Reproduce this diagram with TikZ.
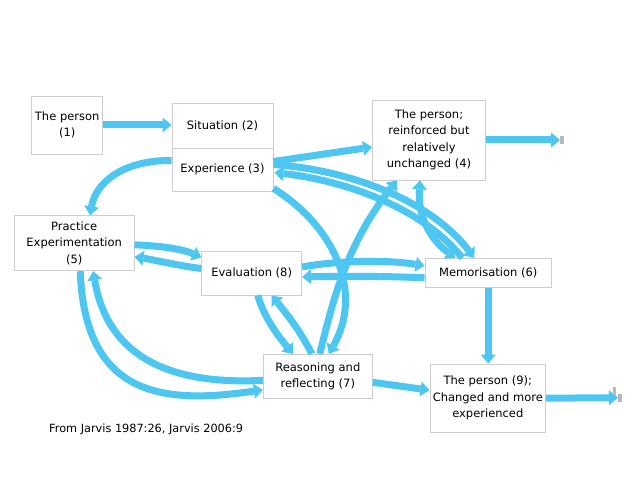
\documentclass[tikz,border=0pt]{standalone}
\usepackage{fontspec}
\setmainfont{DejaVu Sans}
\usetikzlibrary{arrows.meta,calc}
\definecolor{arrowblue}{RGB}{77,199,242}
\definecolor{boxline}{RGB}{205,205,205}
\definecolor{capgray}{RGB}{185,185,185}
\tikzset{
  box/.style={draw=boxline, line width=0.8pt, fill=white, inner sep=0pt, align=center,
    font=\fontsize{11.5}{16.5}\selectfont},
  flow/.style={draw=arrowblue, line width=7pt,
    -{Triangle[width=15pt,length=9pt,line width=0pt]}},
  flowboth/.style={draw=arrowblue, line width=7pt,
    {Triangle[width=15pt,length=9pt,line width=0pt]}-{Triangle[width=15pt,length=9pt,line width=0pt]}},
  capbar/.style={fill=capgray, draw=none}
}
\begin{document}
\begin{tikzpicture}[x=1pt,y=-1pt]
\useasboundingbox[fill=white] (0,0) rectangle (638,478);

% nodes
\node[box, minimum width=71pt, minimum height=58pt] (p1) at (67.2,125) {The person\\(1)};
\node[box, minimum width=101pt, minimum height=45pt] (sit) at (222.5,125.5) {Situation (2)};
\node[box, minimum width=101pt, minimum height=43pt] (exp) at (222.5,169.5) {Experience (3)};
\node[box, minimum width=113pt, minimum height=80pt] (p4) at (429,140) {The person;\\reinforced but\\relatively\\unchanged (4)};
\node[box, minimum width=120pt, minimum height=55pt] (prac) at (74.2,243.3) {Practice\\Experimentation\\(5)};
\node[box, minimum width=100pt, minimum height=44pt] (eval) at (251.7,273) {Evaluation (8)};
\node[box, minimum width=126.7pt, minimum height=29pt] (mem) at (488.3,272.8) {Memorisation (6)};
\node[box, minimum width=109pt, minimum height=44pt] (reas) at (317.8,376.3) {Reasoning and\\reflecting (7)};
\node[box, minimum width=115.7pt, minimum height=68.3pt] (p9) at (487.8,398.2) {The person (9);\\Changed and more\\experienced};
\node[font=\fontsize{11.3}{16.5}\selectfont, anchor=west, inner sep=0pt] (credit) at (49,429.5) {From Jarvis 1987:26, Jarvis 2006:9};

\coordinate (out4) at (560,140);
\coordinate (out9) at (618,397.7);

% connectors
\draw[flow] (p1.east) -- (p1.east -| sit.west);
\draw[flow] (p4.east) -- (out4);
\draw[flow] (p9.east) -- (out9);
\draw[flow] ($(exp.east)+(0,-8)$) -- ($(p4.west)+(0,7)$);
\draw[flow] ($(exp.east)+(0,-5)$) .. controls (350,170) and (430,200) .. ($(mem.north)+(-14,0)$);
\draw[flow] ($(mem.north)+(-26,0)$) .. controls (420,205) and (340,180) .. ($(exp.east)+(1,3)$);
\draw[flowboth] ($(mem.north)+(-33,0)$) .. controls (425,235) and (418,210) .. ($(p4.south)+(-9,0)$);
\draw[flow] ($(exp.west)+(0,-9)$) .. controls (120,160) and (95,185) .. ($(prac.north)+(16,0)$);
\draw[flow] ($(exp.south east)+(0,-3)$) .. controls (332,225) and (365,290) .. ($(reas.north)+(11,0)$);
\draw[flow] ($(reas.north)+(2,0)$) .. controls (335,290) and (350,240) .. ($(p4.south)+(-32,0)$);
\draw[flow] ($(eval.south)+(6,0)$) .. controls (265,320) and (280,338) .. ($(reas.north)+(-25,0)$);
\draw[flow] ($(reas.north)+(-6,0)$) .. controls (300,330) and (285,312) .. ($(eval.south)+(20,0)$);
\draw[flow] ($(eval.east)+(0,-6)$) .. controls (340,260) and (390,260) .. ($(mem.west)+(0,-7)$);
\draw[flow] ($(mem.west)+(0,5)$) .. controls (380,276) and (340,276) .. ($(eval.east)+(0,4)$);
\draw[flow] ($(prac.east)+(0,1.5)$) .. controls (165,246) and (185,250) .. ($(eval.west)+(0,-15.5)$);
\draw[flow] ($(eval.west)+(0,-4.5)$) .. controls (180,266) and (155,260) .. ($(prac.east)+(0,13.5)$);
\draw[flow] (mem.south) -- (mem.south |- p9.north);
\draw[flow] ($(reas.east)+(0,6)$) -- ($(p9.west)+(0,-8)$);
\draw[flow] ($(prac.south)+(6,0)$) .. controls (85,395) and (160,405) .. ($(reas.west)+(0,13.5)$);
\draw[flow] ($(reas.west)+(0,4)$) .. controls (175,385) and (108,360) .. ($(prac.south)+(19,0)$);

% grey end caps
\fill[capbar] ($(out4)+(0,-4)$) rectangle ++(3.5,8);
\fill[capbar] ($(out9)+(0,-4)$) rectangle ++(4,8);
\fill[capbar] ($(out9)+(-5,-11)$) rectangle ++(3,8);
\end{tikzpicture}
\end{document}
